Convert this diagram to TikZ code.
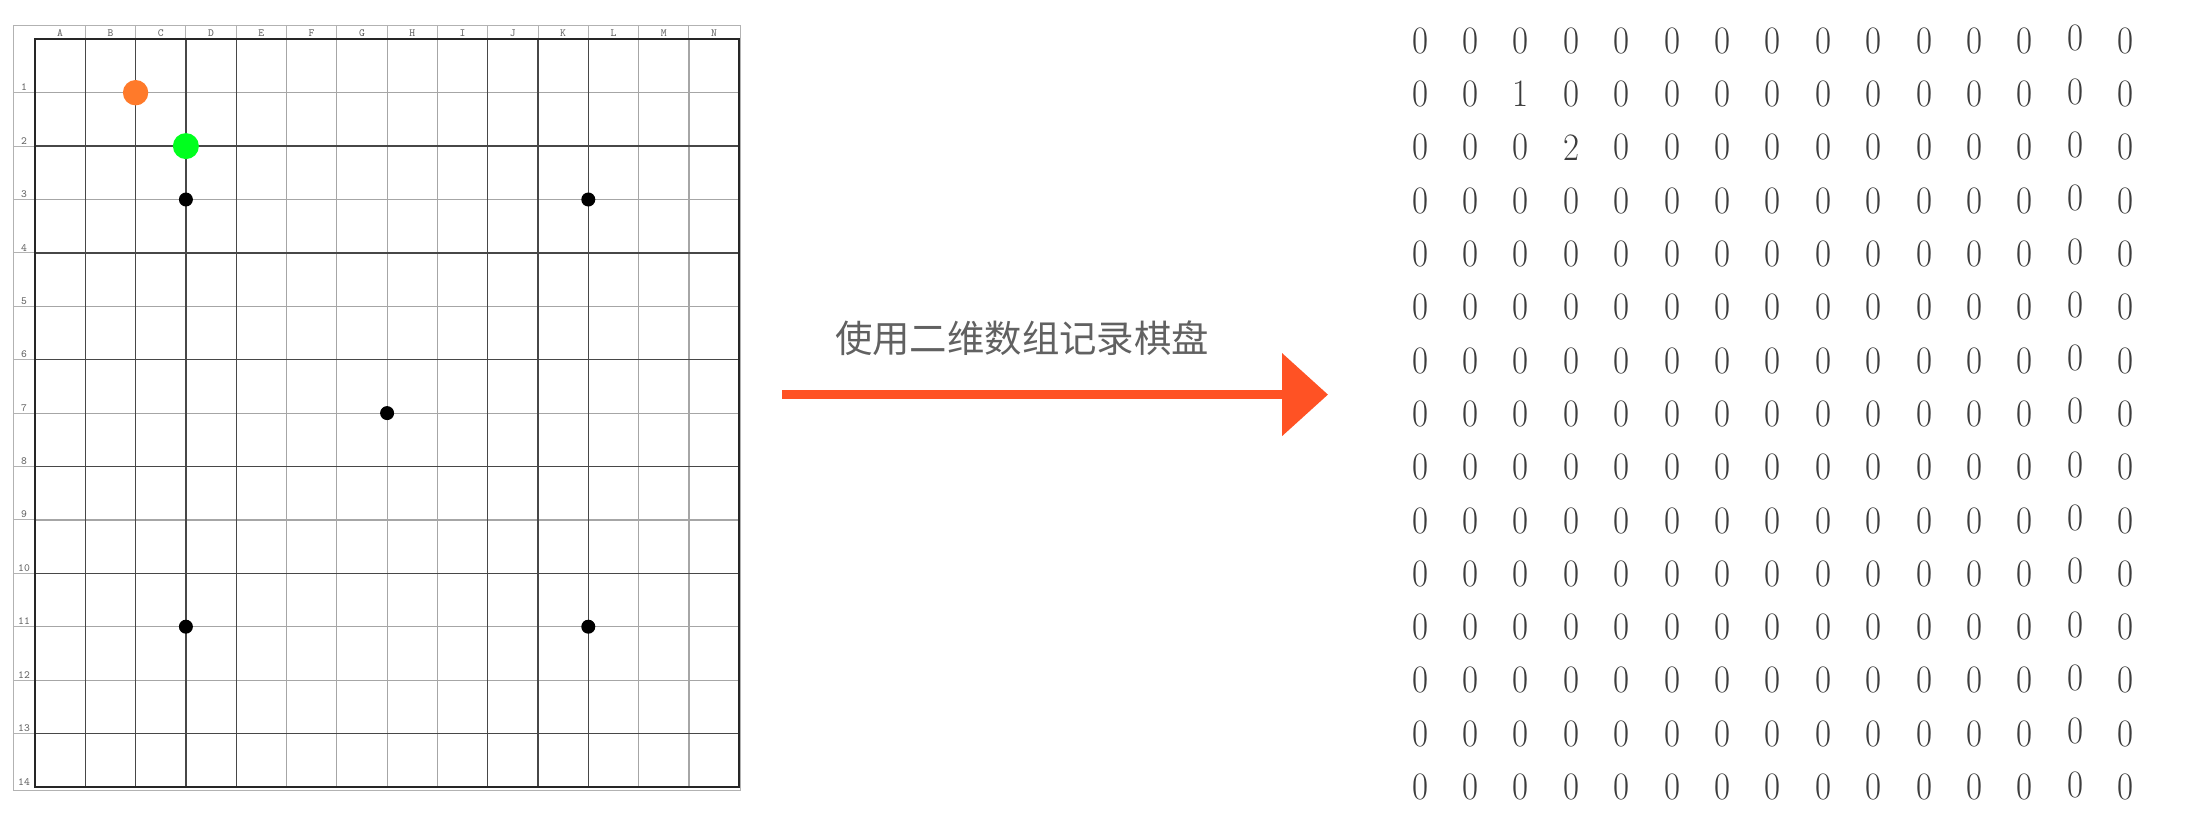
\documentclass[tikz,border=0pt]{standalone}
\usepackage{graphicx}
\usepackage{fontspec}
\newfontfamily\cjk{Noto Sans CJK SC}
\usetikzlibrary{arrows.meta}
\definecolor{arrowred}{HTML}{FF5224}
\definecolor{stoneorange}{HTML}{FF7A2A}
\definecolor{stonegreen}{HTML}{00FF1E}
\definecolor{numgray}{HTML}{3C3C3C}
\newcommand\narrowdigit[1]{\scalebox{0.9}[1]{#1}}
\tikzset{
	hdrline/.style={draw=black!30, line width=0.5pt},
	lightrule/.style={draw=black!35, line width=0.6pt},
	darkrule/.style={draw=black!72, line width=0.6pt},
	hdr/.style={font=\ttfamily\fontsize{5.5}{6}\selectfont, text=black!60, inner sep=0pt},
	cell/.style={font=\fontsize{19.4}{20}\selectfont, text=numgray, inner sep=0pt},
	stone/.style={circle, inner sep=0pt, minimum size=#1},
}
\begin{document}
\begin{tikzpicture}[x=0.5pt,y=-0.5pt]
	\useasboundingbox (0,0) rectangle (2190,829);
	\def\gx{35} \def\gy{39.3} \def\dx{50.3} \def\dy{53.4}
	\draw[hdrline] (13.5,26) rectangle (740,790);
	\foreach \i in {1,...,13} \draw[hdrline] (\gx+\i*\dx,26) -- (\gx+\i*\dx,\gy);
	\foreach \j in {1,...,13} \draw[hdrline] (13.5,\gy+\j*\dy) -- (\gx,\gy+\j*\dy);
	\foreach \i in {5,6,7,8,12,13} \draw[lightrule] (\gx+\i*\dx,\gy) -- (\gx+\i*\dx,\gy+14*\dy);
	\foreach \j in {1,3,5,7,9,11,12} \draw[lightrule] (\gx,\gy+\j*\dy) -- (\gx+14*\dx,\gy+\j*\dy);
	\foreach \i in {1,2,3,4,9,10,11} \draw[darkrule] (\gx+\i*\dx,\gy) -- (\gx+\i*\dx,\gy+14*\dy);
	\foreach \j in {2,4,6,8,10,13} \draw[darkrule] (\gx,\gy+\j*\dy) -- (\gx+14*\dx,\gy+\j*\dy);
	\draw[black!85, line width=1pt] (\gx,\gy) rectangle (\gx+14*\dx,\gy+14*\dy);
	\foreach \c [count=\i from 0] in {A,...,N}
		\node[hdr] (col\c) at (\gx+\i*\dx+0.5*\dx,32.7) {\c};
	\foreach \j in {1,...,14}
		\node[hdr, anchor=south] (row\j) at (24,\gy+\j*\dy-1.5) {\j};
	\node[stone=12.7pt, fill=stoneorange] (orange) at (\gx+2*\dx,\gy+\dy) {};
	\node[stone=13pt, fill=stonegreen] (green) at (\gx+3*\dx,\gy+2*\dy) {};
	\foreach \p/\q in {3/3,11/3,7/7,3/11,11/11}
		\node[stone=7pt, fill=black] (star\p-\q) at (\gx+\p*\dx,\gy+\q*\dy) {};
	\coordinate (from) at (782,394.6);
	\coordinate (to) at (1328,394.6);
	\draw[arrowred, line width=4.5pt, -{Triangle[length=23pt,width=40.5pt]}] (from) -- (to);
	\node[font=\cjk\fontsize{18.7}{18.7}\selectfont, text=black!62] (caption) at (1022,338) {使用二维数组记录棋盘};
	\foreach \r in {0,...,14}
		\foreach \c in {0,...,14} {
			\pgfmathtruncatemacro\v{(\r==1 && \c==2) ? 1 : ((\r==2 && \c==3) ? 2 : 0)}
			\pgfmathsetmacro\lift{\c==13 ? -2.5 : 0}
			\node[cell] (m-\r-\c) at (1420+\c*50.4,40.8+\r*53.3+\lift) {\narrowdigit{\v}};
		}
\end{tikzpicture}
\end{document}
